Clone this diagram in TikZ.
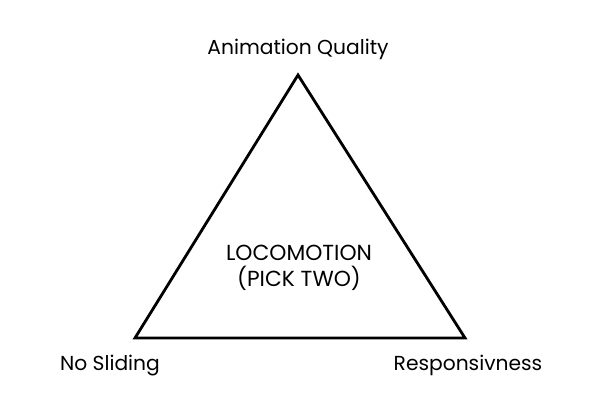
\documentclass[tikz,border=0pt]{standalone}
\usepackage{fontspec}
\setmainfont{Poppins}
\usepackage{tikz}
\usetikzlibrary{positioning}

\begin{document}
\begin{tikzpicture}[line join=miter, lbl/.style ={font=\fontsize{14.4}{17}\selectfont, text = black, inner sep=0pt, anchor=base}, side/.style={draw, line width=2pt}]
		\useasboundingbox (0,0) rectangle (15,10.5);
		\coordinate (Q) at (7.45,8.625);
		\coordinate (S) at (3.375,2.05);
		\coordinate (R) at (11.625,2.05);
		\node[lbl] (quality) at (7.45,9.125) {Animation Quality};
		\node[lbl] (sliding) at (2.75,1.25) {No Sliding};
		\node[lbl] (resp) at (11.7,1.25) {Responsivness};
		\node[lbl, font=\fontsize{15.5}{19}\selectfont, align=center] (loco) at (7.475,3.325) {LOCOMOTION\\(PICK TWO)};
		\draw[side] (Q) -- (S) -- (R) -- cycle;
		\end{tikzpicture}
\end{document}
